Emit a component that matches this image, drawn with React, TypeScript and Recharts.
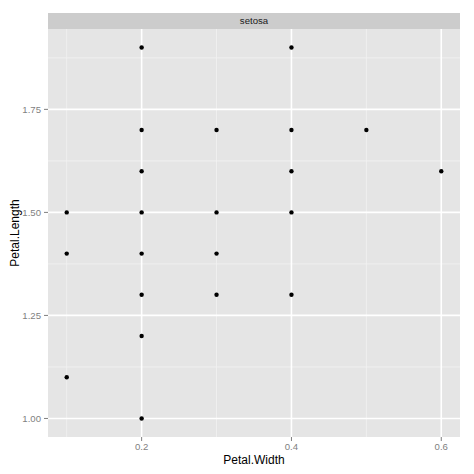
import { ScatterChart, Scatter, XAxis, YAxis, ReferenceArea, ReferenceLine } from 'recharts';

// setosa petal measurements
const petalWidth = [
    0.2, 0.2, 0.2, 0.2, 0.2, 0.4, 0.3, 0.2, 0.2, 0.1,
    0.2, 0.2, 0.1, 0.1, 0.2, 0.4, 0.4, 0.3, 0.3, 0.3,
    0.2, 0.4, 0.2, 0.5, 0.2, 0.2, 0.4, 0.2, 0.2, 0.2,
    0.2, 0.4, 0.1, 0.2, 0.2, 0.2, 0.2, 0.1, 0.2, 0.2,
    0.3, 0.3, 0.2, 0.6, 0.4, 0.3, 0.2, 0.2, 0.2, 0.2,
];
const petalLength = [
    1.4, 1.4, 1.3, 1.5, 1.4, 1.7, 1.4, 1.5, 1.4, 1.5,
    1.5, 1.6, 1.4, 1.1, 1.2, 1.5, 1.3, 1.4, 1.7, 1.5,
    1.7, 1.5, 1.0, 1.7, 1.9, 1.6, 1.6, 1.5, 1.4, 1.6,
    1.6, 1.5, 1.5, 1.4, 1.5, 1.2, 1.3, 1.4, 1.3, 1.5,
    1.3, 1.3, 1.3, 1.6, 1.9, 1.4, 1.6, 1.4, 1.5, 1.4,
];

const xTicks = [0.2, 0.4, 0.6];
const xMinor = [0.1, 0.3, 0.5];
const yTicks = [1.0, 1.25, 1.5, 1.75];
const yMinor = [1.125, 1.375, 1.625, 1.875];
const panelLabel = 'setosa';

const xDomain = [0.075, 0.625];
const yDomain = [0.955, 1.945];

// overlapping observations collapse to one dot, like in the original plot
const seen = new Set<string>();
const data = petalWidth
    .map((w, i) => ({ x: w, y: petalLength[i] }))
    .filter((p) => {
        const k = `${p.x}-${p.y}`;
        if (seen.has(k)) return false;
        seen.add(k);
        return true;
    });

const FONT = '"Liberation Sans", Arial, sans-serif';

const Dot = (props: any) => <circle cx={props.cx} cy={props.cy} r={2.2} fill="#000" />;

export default function App() {
    return (
        <div style={{ position: 'absolute', left: 0, top: 0, width: 474, height: 474, background: '#fff', fontFamily: FONT }}>
            {/* facet strip */}
            <div
                style={{
                    position: 'absolute', left: 48, top: 13, width: 412, height: 16,
                    background: '#cccccc', color: '#1a1a1a', fontSize: 9.6,
                    textAlign: 'center', lineHeight: '16px',
                }}
            >
                {panelLabel}
            </div>
            <ScatterChart width={474} height={474} margin={{ top: 29, right: 14, bottom: 0, left: 0 }}>
                <ReferenceArea x1={xDomain[0]} x2={xDomain[1]} y1={yDomain[0]} y2={yDomain[1]} fill="#e5e5e5" fillOpacity={1} stroke="none" />
                {xMinor.map((v) => (
                    <ReferenceLine key={`xm${v}`} x={v} stroke="#f2f2f2" strokeWidth={0.8} />
                ))}
                {yMinor.map((v) => (
                    <ReferenceLine key={`ym${v}`} y={v} stroke="#f2f2f2" strokeWidth={0.8} />
                ))}
                {xTicks.map((v) => (
                    <ReferenceLine key={`x${v}`} x={v} stroke="#ffffff" strokeWidth={1.6} />
                ))}
                {yTicks.map((v) => (
                    <ReferenceLine key={`y${v}`} y={v} stroke="#ffffff" strokeWidth={1.6} />
                ))}
                <XAxis
                    type="number"
                    dataKey="x"
                    domain={xDomain}
                    ticks={xTicks}
                    allowDataOverflow
                    height={37}
                    axisLine={false}
                    tickSize={4}
                    tickMargin={2}
                    tickLine={{ stroke: '#7f7f7f' }}
                    tick={{ fill: '#7f7f7f', fontSize: 9.6, fontFamily: FONT }}
                    tickFormatter={(v: number) => v.toFixed(1)}
                    label={{ value: 'Petal.Width', position: 'insideBottom', offset: 10, fill: '#000', fontSize: 12, fontFamily: FONT }}
                />
                <YAxis
                    type="number"
                    dataKey="y"
                    domain={yDomain}
                    ticks={yTicks}
                    allowDataOverflow
                    width={48}
                    axisLine={false}
                    tickSize={4}
                    tickMargin={3}
                    tickLine={{ stroke: '#7f7f7f' }}
                    tick={{ fill: '#7f7f7f', fontSize: 9.6, fontFamily: FONT }}
                    tickFormatter={(v: number) => v.toFixed(2)}
                    label={{ value: 'Petal.Length', angle: -90, position: 'insideLeft', offset: 15, fill: '#000', fontSize: 12, fontFamily: FONT, style: { textAnchor: 'middle' } }}
                />
                <Scatter data={data} shape={Dot} isAnimationActive={false} />
            </ScatterChart>
        </div>
    );
}
